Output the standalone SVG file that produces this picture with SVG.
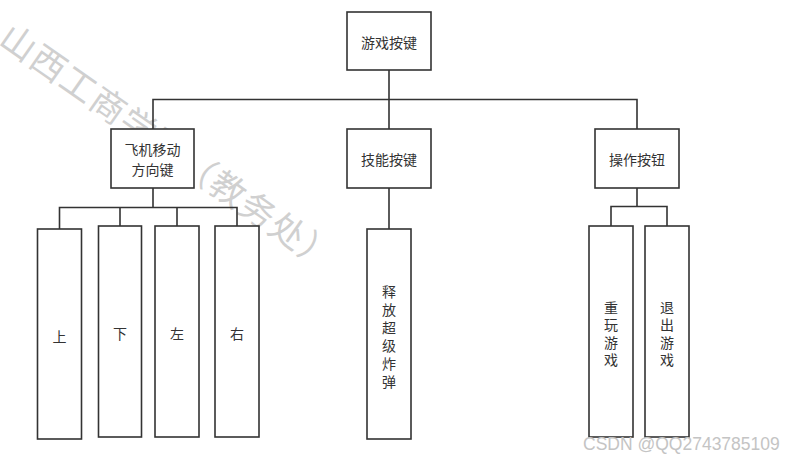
<svg xmlns="http://www.w3.org/2000/svg" width="796" height="462" viewBox="0 0 796 462">
<style>
.box{fill:#fff;stroke:#333;stroke-width:1.6}
.ln{fill:none;stroke:#333;stroke-width:1.6}
.t{font-family:"Noto Sans CJK SC","Liberation Sans",sans-serif;font-size:14px;fill:#333;text-anchor:middle;dominant-baseline:central}
.v{font-family:"Noto Sans CJK SC",sans-serif;font-size:14px;fill:#333;text-anchor:middle;writing-mode:vertical-rl}
.wm{font-family:"Noto Sans CJK SC",sans-serif;font-size:35px;fill:#d0d0d0;letter-spacing:1.5px}
.csdn{font-family:"Liberation Sans",sans-serif;font-size:17.5px;fill:#c4c4c4}
</style>
<rect width="796" height="462" fill="#fff"/>
<text class="wm" x="0" y="0" transform="translate(-3,43) rotate(35)">山西工商学院（教务处）</text>
<g id="connectors">
<path class="ln" d="M389 70V129M153 129V99.5H637V129"/>
<path class="ln" d="M153 188V207.5M59.5 229V207.5H237V226M120 207.5V226M177 207.5V226"/>
<path class="ln" d="M389 188V229"/>
<path class="ln" d="M637 188V206.5M611 226V206.5H667V226"/>
</g>
<g id="root"><rect class="box" x="347" y="12" width="84" height="58"/><text class="t" x="389" y="42">游戏按键</text></g>
<g id="move"><rect class="box" x="111" y="129" width="83" height="59"/><text class="t" x="152.5" y="149">飞机移动</text><text class="t" x="152.5" y="169">方向键</text></g>
<g id="skill"><rect class="box" x="347" y="129" width="84" height="59"/><text class="t" x="389" y="158.5">技能按键</text></g>
<g id="ops"><rect class="box" x="595" y="129" width="84" height="59"/><text class="t" x="637" y="158.5">操作按钮</text></g>
<g id="up"><rect class="box" x="37.5" y="229" width="44" height="210"/><text class="t" x="59.5" y="336">上</text></g>
<g id="down"><rect class="box" x="98.5" y="226" width="43" height="211"/><text class="t" x="120" y="333">下</text></g>
<g id="left"><rect class="box" x="155" y="226" width="44" height="211"/><text class="t" x="177" y="333">左</text></g>
<g id="right"><rect class="box" x="215" y="226" width="44" height="211"/><text class="t" x="237" y="333">右</text></g>
<g id="bomb"><rect class="box" x="367" y="229" width="44" height="210"/>
<text class="v" x="389" y="339" letter-spacing="4">释放超级炸弹</text></g>
<g id="replay"><rect class="box" x="589" y="226" width="44" height="211"/>
<text class="v" x="611" y="335.5" letter-spacing="3.5">重玩游戏</text></g>
<g id="quit"><rect class="box" x="645" y="226" width="44" height="211"/>
<text class="v" x="667" y="335.5" letter-spacing="3.5">退出游戏</text></g>
<text class="csdn" x="583" y="450">CSDN @QQ2743785109</text>
</svg>
